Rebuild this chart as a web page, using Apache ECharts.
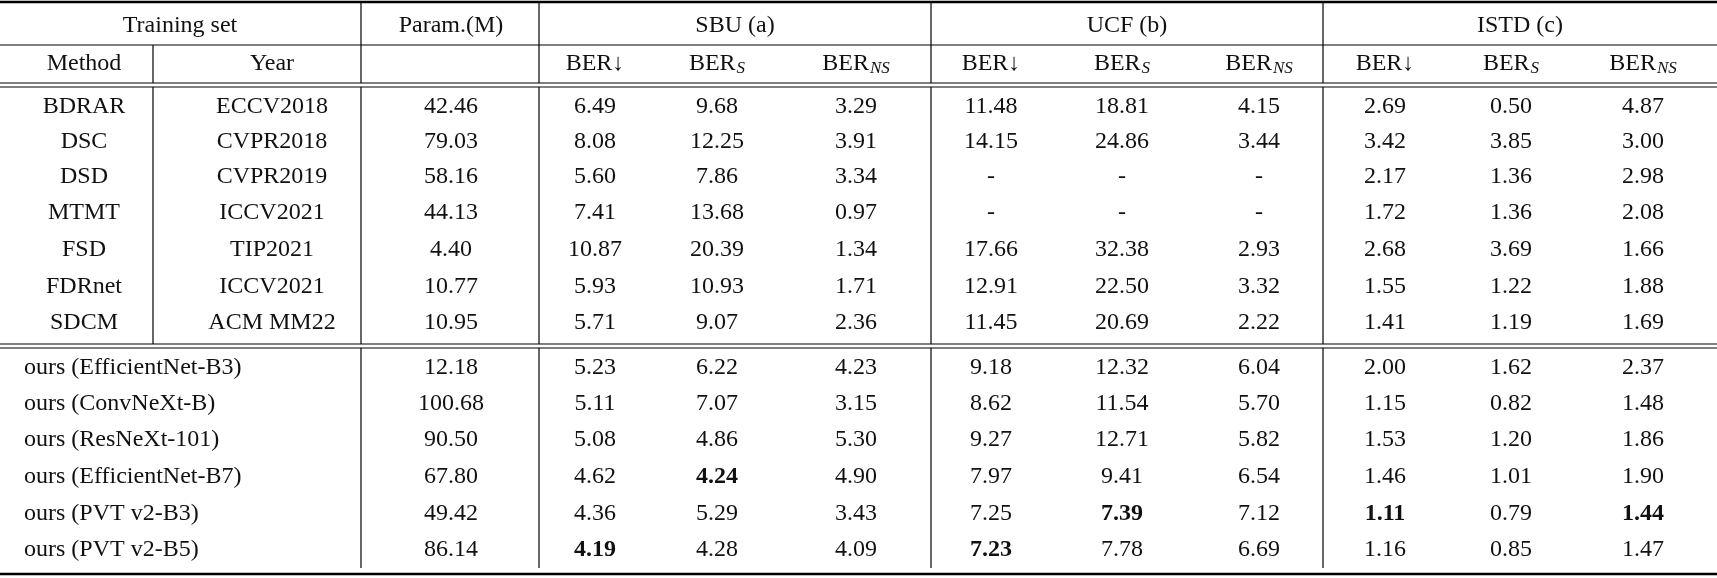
<!DOCTYPE html>
<html><head><meta charset="utf-8">
<script src="https://cdn.jsdelivr.net/npm/echarts@6/dist/echarts.min.js"></script>
<style>html,body{margin:0;padding:0;background:#fff}#c{width:1717px;height:578px}</style>
</head><body><div id="c"></div>
<script>
// ---- data ----
const methods = ['BDRAR','DSC','DSD','MTMT','FSD','FDRnet','SDCM'];
const years = ['ECCV2018','CVPR2018','CVPR2019','ICCV2021','TIP2021','ICCV2021','ACM MM22'];
const oursMethods = ['ours (EfficientNet-B3)','ours (ConvNeXt-B)','ours (ResNeXt-101)','ours (EfficientNet-B7)','ours (PVT v2-B3)','ours (PVT v2-B5)'];
const params = ['42.46','79.03','58.16','44.13','4.40','10.77','10.95','12.18','100.68','90.50','67.80','49.42','86.14'];
const sbu = [['6.49','9.68','3.29'],['8.08','12.25','3.91'],['5.60','7.86','3.34'],['7.41','13.68','0.97'],['10.87','20.39','1.34'],['5.93','10.93','1.71'],['5.71','9.07','2.36'],
 ['5.23','6.22','4.23'],['5.11','7.07','3.15'],['5.08','4.86','5.30'],['4.62','4.24','4.90'],['4.36','5.29','3.43'],['4.19','4.28','4.09']];
const ucf = [['11.48','18.81','4.15'],['14.15','24.86','3.44'],['-','-','-'],['-','-','-'],['17.66','32.38','2.93'],['12.91','22.50','3.32'],['11.45','20.69','2.22'],
 ['9.18','12.32','6.04'],['8.62','11.54','5.70'],['9.27','12.71','5.82'],['7.97','9.41','6.54'],['7.25','7.39','7.12'],['7.23','7.78','6.69']];
const istd = [['2.69','0.50','4.87'],['3.42','3.85','3.00'],['2.17','1.36','2.98'],['1.72','1.36','2.08'],['2.68','3.69','1.66'],['1.55','1.22','1.88'],['1.41','1.19','1.69'],
 ['2.00','1.62','2.37'],['1.15','0.82','1.48'],['1.53','1.20','1.86'],['1.46','1.01','1.90'],['1.11','0.79','1.44'],['1.16','0.85','1.47']];
// bold cells: [row, col]
const boldCells = [[10,4],[12,3],[12,6],[11,7],[11,9],[11,11]];
const header1 = ['Training set','Param.(M)','SBU (a)','UCF (b)','ISTD (c)'];
const header2 = ['Method','Year','','{t|BER↓}','{t|BER}{s|S}','{t|BER}{s|NS}','{t|BER↓}','{t|BER}{s|S}','{t|BER}{s|NS}','{t|BER↓}','{t|BER}{s|S}','{t|BER}{s|NS}'];

// ---- layout ----
const colX = [84,272,451,595,717,856,991,1122,1259,1385,1511,1643];
const h1X = [180,451,735,1127,1520];
const rowY = [107,142,177,213,250,287,323,368,404,440,477,514,550];
const yH1 = 26, yH2 = 64;

const cells = [];
header1.forEach((t,i)=>cells.push([h1X[i],yH1,t,0,'center']));
header2.forEach((t,i)=>cells.push([colX[i],yH2,t,0,'center']));
for(let r=0;r<13;r++){
  if(r<7){cells.push([colX[0],rowY[r],methods[r],0,'center']);cells.push([colX[1],rowY[r],years[r],0,'center']);}
  else cells.push([24,rowY[r],oursMethods[r-7],0,'left']);
  const vals=[params[r],...sbu[r],...ucf[r],...istd[r]];
  vals.forEach((v,j)=>{const c=j+2;const b=boldCells.some(([br,bc])=>br===r&&bc===c)?1:0;cells.push([colX[c],rowY[r],v,b,'center']);});
}
const FONT='Liberation Serif';
const chart=echarts.init(document.getElementById('c'));
const L=(x1,y1,x2,y2,w)=>({type:'line',shape:{x1,y1,x2,y2},style:{stroke:'#000',lineWidth:w||1.2}});
const lines=[L(0,2,1717,2,2.4),L(0,45,1717,45),L(0,83,1717,83),L(0,87,1717,87),L(0,344,1717,344),L(0,348,1717,348),L(0,574,1717,574,2.4),
 L(153,45,153,83),L(153,87,153,344)];
[361,539,931,1323].forEach(x=>{lines.push(L(x,2,x,83));lines.push(L(x,87,x,344));lines.push(L(x,348,x,568));});
chart.setOption({
  animation:false,
  grid:{left:0,right:0,top:0,bottom:0},
  xAxis:{type:'value',min:0,max:1717,show:false},
  yAxis:{type:'value',min:0,max:578,inverse:true,show:false},
  graphic:lines,
  series:[{type:'custom',data:cells,renderItem:(p,api)=>{
    const pt=api.coord([api.value(0),api.value(1)]);
    const d=cells[p.dataIndex];
    return {type:'text',x:pt[0],y:pt[1],style:{text:d[2],fill:'#111',font:(d[3]?'bold ':'')+'24px "'+FONT+'"',
      align:d[4],verticalAlign:'middle',
      rich:{t:{fontFamily:FONT,fontSize:24,fill:'#111'},s:{fontFamily:FONT,fontSize:17,fontStyle:'italic',fill:'#111',padding:[10,0,0,1]}}}};
  }}]
});
</script></body></html>
